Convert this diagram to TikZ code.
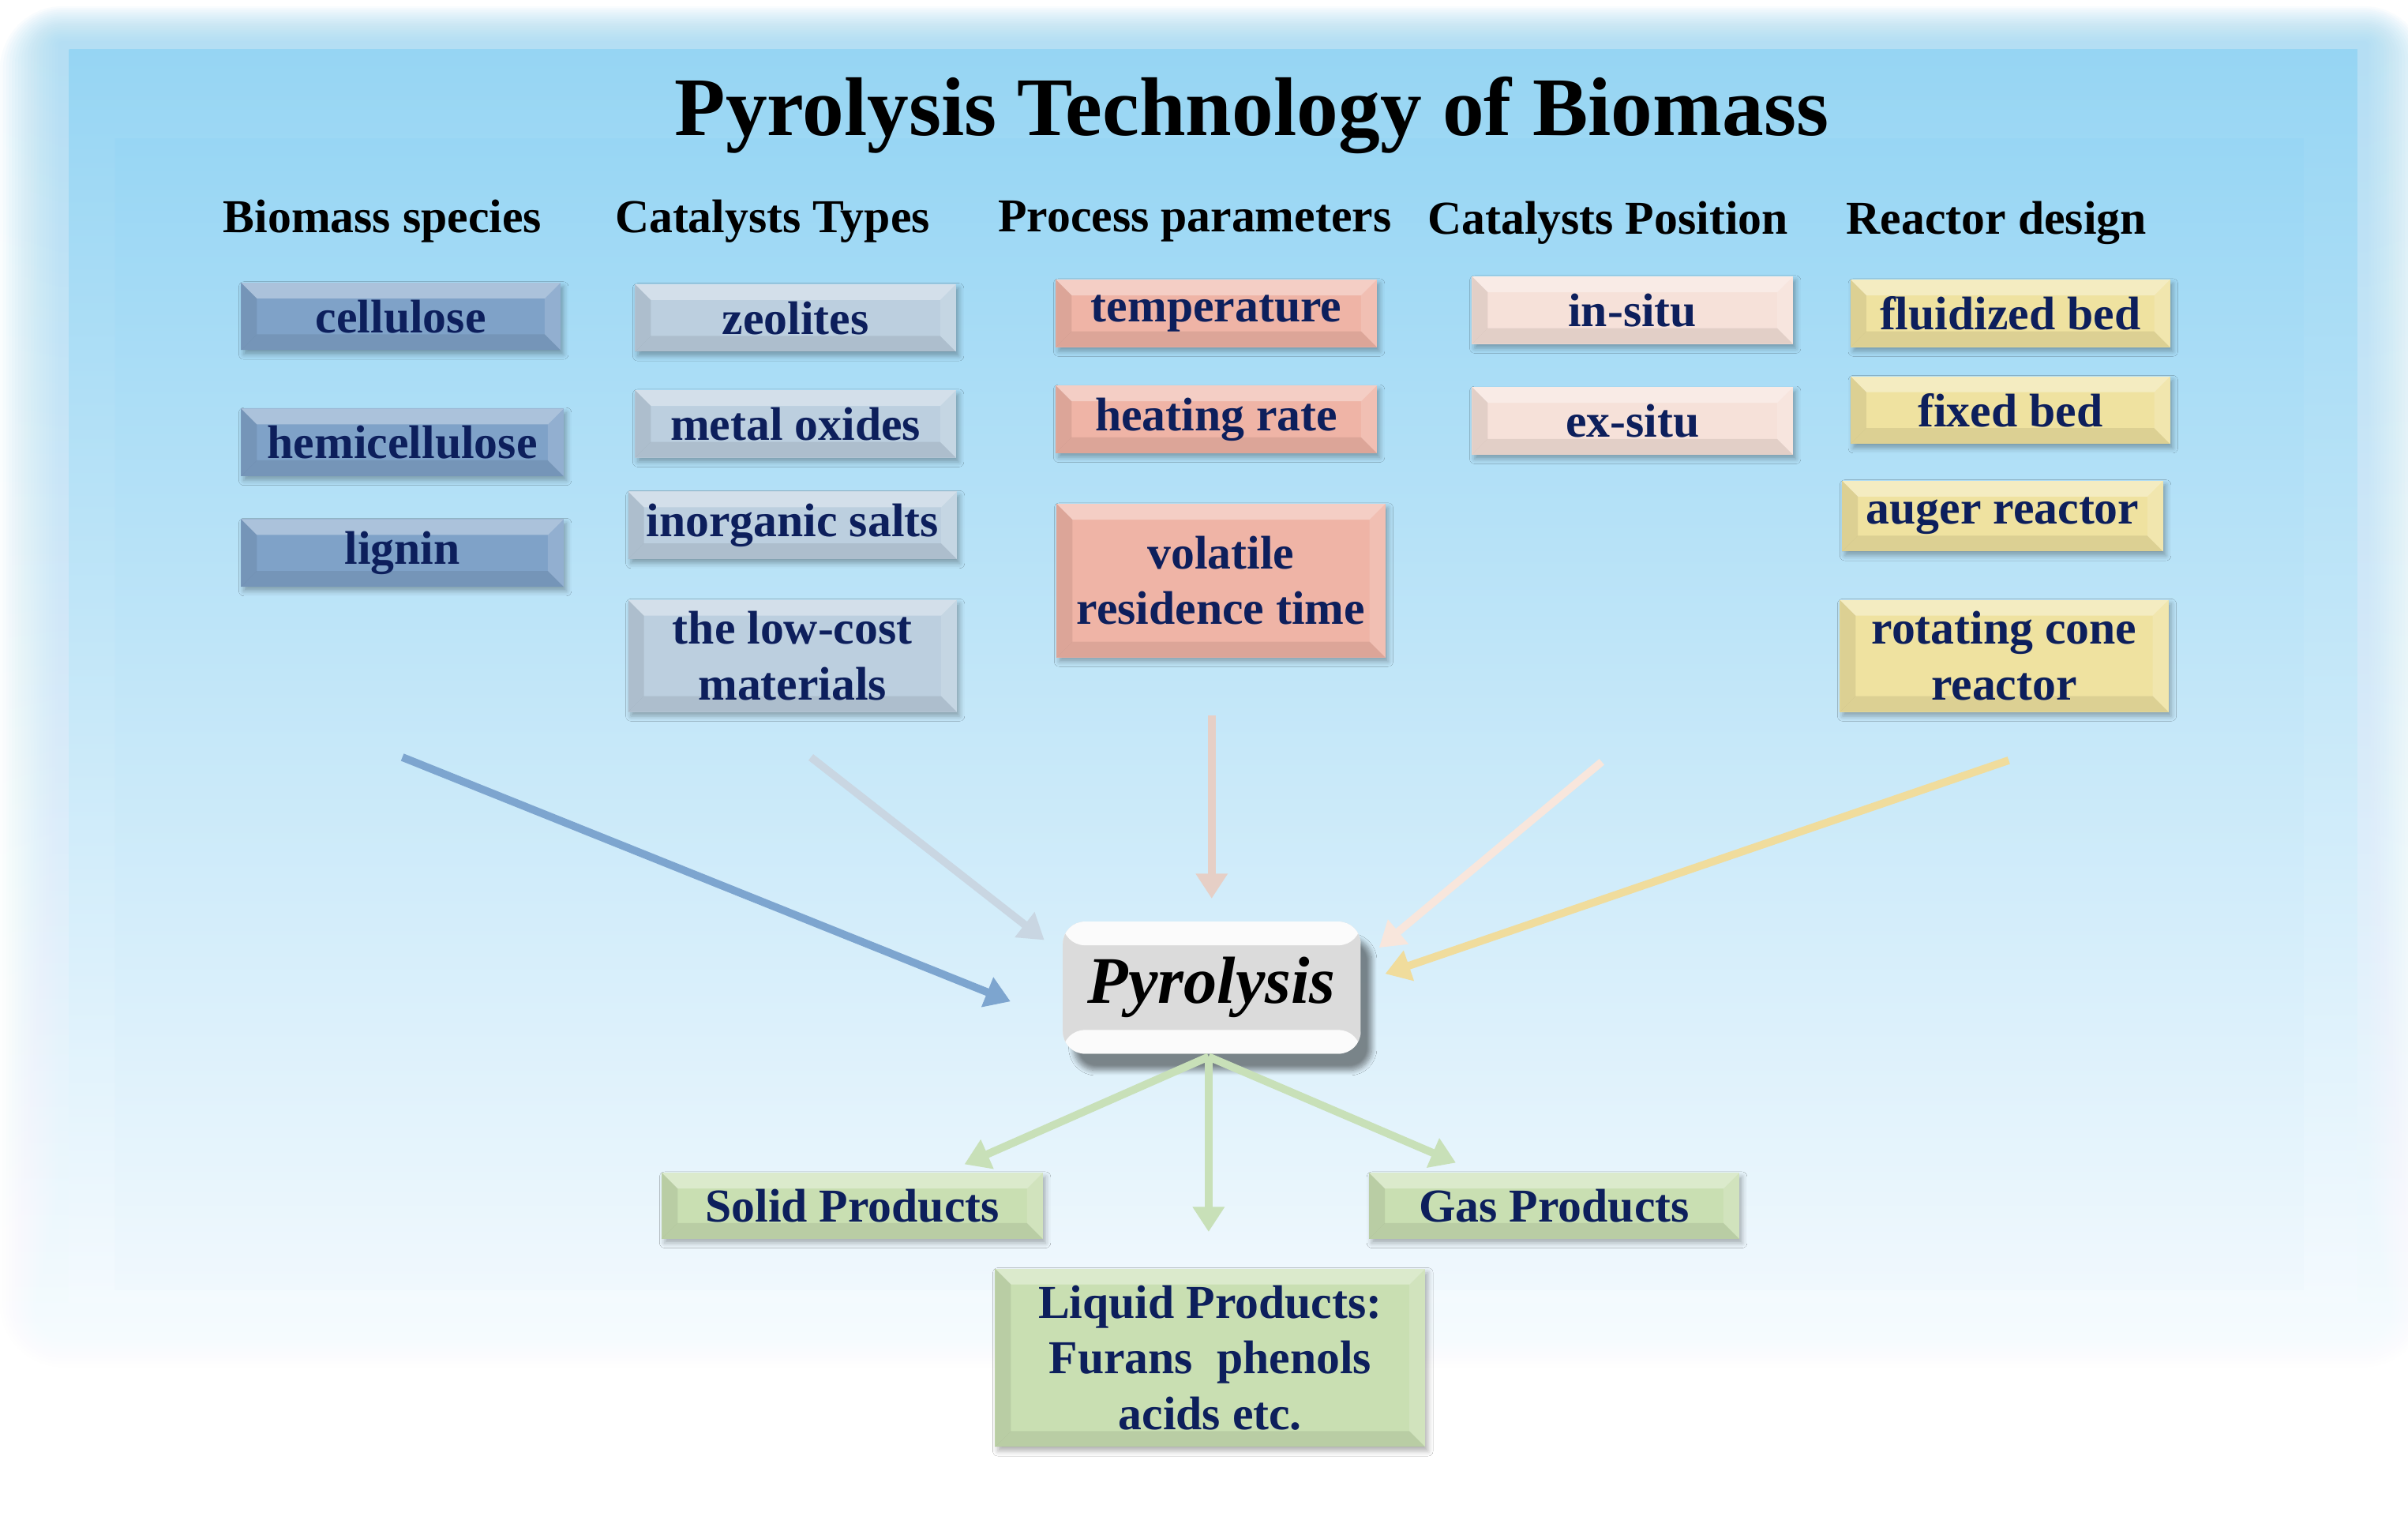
\documentclass[tikz,border=0pt]{standalone}
\usepackage{fontspec}
\setmainfont{Liberation Serif}
\usetikzlibrary{arrows.meta,shadows.blur}
\definecolor{navy}{HTML}{0D1F5C}
\definecolor{cA}{HTML}{7FA2C8}
\definecolor{cB}{HTML}{BCCFDF}
\definecolor{cC}{HTML}{EFB4A6}
\definecolor{cD}{HTML}{F6E1D9}
\definecolor{cE}{HTML}{EFE2A0}
\definecolor{cF}{HTML}{C9DFB2}
\definecolor{aA}{HTML}{7DA5CF}
\definecolor{aB}{HTML}{C9D6E2}
\definecolor{aC}{HTML}{E6CFC6}
\definecolor{aD}{HTML}{F8E6DC}
\definecolor{aE}{HTML}{F0DC9C}
\definecolor{aF}{HTML}{C8E0B8}
\definecolor{glow}{HTML}{9AD6F3}
\tikzset{
 bev/.style={draw=none,fill=#1,text=navy,font=\bfseries\fontsize{17}{20}\selectfont,align=center,inner sep=0pt,
  blur shadow={shadow xshift=1pt,shadow yshift=-1.5pt,shadow blur steps=4,shadow opacity=30},
  path picture={
   \def\b{0.2cm}
   \fill[white,opacity=.35] (path picture bounding box.north west) -- (path picture bounding box.north east) -- ([xshift=-\b,yshift=-\b]path picture bounding box.north east) -- ([xshift=\b,yshift=-\b]path picture bounding box.north west) -- cycle;
   \fill[black,opacity=.08] (path picture bounding box.south west) -- (path picture bounding box.south east) -- ([xshift=-\b,yshift=\b]path picture bounding box.south east) -- ([xshift=\b,yshift=\b]path picture bounding box.south west) -- cycle;
   \fill[black,opacity=.08] (path picture bounding box.south west) -- (path picture bounding box.north west) -- ([xshift=\b,yshift=-\b]path picture bounding box.north west) -- ([xshift=\b,yshift=\b]path picture bounding box.south west) -- cycle;
   \fill[white,opacity=.15] (path picture bounding box.south east) -- (path picture bounding box.north east) -- ([xshift=-\b,yshift=-\b]path picture bounding box.north east) -- ([xshift=-\b,yshift=\b]path picture bounding box.south east) -- cycle;
  }},
 hdr/.style={font=\bfseries\fontsize{17}{20}\selectfont,text=black},
 arr/.style={draw=#1,line width=2.8pt,-{Triangle[length=9pt,width=11pt,fill=#1]}},
}
\begin{document}
\begin{tikzpicture}[x=0.01945cm,y=-0.01945cm]
\useasboundingbox (0,0) rectangle (1568,992);
\fill[white] (0,0) rectangle (1568,992);
% soft glow
\foreach \i in {2,4,...,40}{
 \shade[top color=glow,bottom color=glow!8,opacity=0.06,rounded corners=\i*0.02cm] (40-\i,28-\i*0.6) rectangle (1540+\i,850+\i);}
\shade[top color={rgb,255:red,150;green,213;blue,243},bottom color={rgb,255:red,244;green,250;blue,254}] (45,32) rectangle (1535,848);
\shade[top color={rgb,255:red,152;green,214;blue,244},bottom color={rgb,255:red,240;green,248;blue,253}] (75,90) rectangle (1500,840);
\node[font=\bfseries\fontsize{30}{36}\selectfont] (title) at (815,75) {Pyrolysis Technology of Biomass};
\node[hdr] (h1) at (249,144) {Biomass species};
\node[hdr] (h2) at (503,144) {Catalysts Types};
\node[hdr] (h3) at (778,144) {Process parameters};
\node[hdr] (h4) at (1047,145) {Catalysts Position};
\node[hdr] (h5) at (1300,145) {Reactor design};
% column 1
\node[bev=cA,minimum width=208*0.01945cm,minimum height=44*0.01945cm] (a1) at (261,206) {cellulose};
\node[bev=cA,minimum width=210*0.01945cm,minimum height=44*0.01945cm] (a2) at (262,288) {hemicellulose};
\node[bev=cA,minimum width=210*0.01945cm,minimum height=44*0.01945cm] (a3) at (262,360) {lignin};
% column 2
\node[bev=cB,minimum width=209*0.01945cm,minimum height=44*0.01945cm] (b1) at (518,207) {zeolites};
\node[bev=cB,minimum width=209*0.01945cm,minimum height=44*0.01945cm] (b2) at (518,276) {metal oxides};
\node[bev=cB,minimum width=214*0.01945cm,minimum height=44*0.01945cm] (b3) at (516,342) {inorganic salts};
\node[bev=cB,minimum width=214*0.01945cm,minimum height=73*0.01945cm] (b4) at (516,427) {the low-cost\\materials};
% column 3
\node[bev=cC,minimum width=209*0.01945cm,minimum height=44*0.01945cm] (c1) at (792,204) {temperature};
\node[bev=cC,minimum width=209*0.01945cm,minimum height=44*0.01945cm] (c2) at (792,273) {heating rate};
\node[bev=cC,minimum width=214*0.01945cm,minimum height=100*0.01945cm] (c3) at (795,378) {volatile\\residence time};
% column 4
\node[bev=cD,minimum width=209*0.01945cm,minimum height=44*0.01945cm] (d1) at (1063,202) {in-situ};
\node[bev=cD,minimum width=209*0.01945cm,minimum height=44*0.01945cm] (d2) at (1063,274) {ex-situ};
% column 5
\node[bev=cE,minimum width=208*0.01945cm,minimum height=44*0.01945cm] (e1) at (1309,204) {fluidized bed};
\node[bev=cE,minimum width=208*0.01945cm,minimum height=44*0.01945cm] (e2) at (1309,267) {fixed bed};
\node[bev=cE,minimum width=209*0.01945cm,minimum height=46*0.01945cm] (e3) at (1304,336) {auger reactor};
\node[bev=cE,minimum width=214*0.01945cm,minimum height=73*0.01945cm] (e4) at (1305,427) {rotating cone\\reactor};
% center
\node[draw=none,rounded corners=8pt,fill=gray!28,inner sep=0pt,minimum width=194*0.01945cm,minimum height=86*0.01945cm,
  blur shadow={shadow xshift=4pt,shadow yshift=-6pt,shadow blur steps=8,shadow opacity=45},
  font=\bfseries\itshape\fontsize{24}{28}\selectfont,
  path picture={\fill[white,opacity=.9] (path picture bounding box.north west) rectangle ([yshift=-0.3cm]path picture bounding box.north east);
  \fill[white,opacity=.9] (path picture bounding box.south west) rectangle ([yshift=0.3cm]path picture bounding box.south east);}] (p) at (789,643) {Pyrolysis};
% outputs
\node[bev=cF,minimum width=248*0.01945cm,minimum height=43*0.01945cm] (o1) at (555,785) {Solid Products};
\node[bev=cF,minimum width=241*0.01945cm,minimum height=43*0.01945cm] (o2) at (1012,785) {Gas Products};
\node[bev=cF,minimum width=280*0.01945cm,minimum height=116*0.01945cm] (o3) at (788,884) {Liquid Products:\\Furans\ \ phenols\\acids etc.};
% arrow anchors
\coordinate (sA) at (262,493); \coordinate (tA) at (658,652);
\coordinate (sB) at (528,493); \coordinate (tB) at (680,612);
\coordinate (sC) at (789,466); \coordinate (tC) at (789,585);
\coordinate (sD) at (1043,496); \coordinate (tD) at (898,617);
\coordinate (sE) at (1308,495); \coordinate (tE) at (902,634);
\coordinate (sP) at (787,688);
\coordinate (t1) at (628,758); \coordinate (t2) at (787,802); \coordinate (t3) at (948,757);
\draw[arr=aA] (sA) -- (tA);
\draw[arr=aB] (sB) -- (tB);
\draw[arr=aC] (sC) -- (tC);
\draw[arr=aD] (sD) -- (tD);
\draw[arr=aE] (sE) -- (tE);
\draw[arr=aF] (sP) -- (t1);
\draw[arr=aF] (sP) -- (t2);
\draw[arr=aF] (sP) -- (t3);
\end{tikzpicture}
\end{document}
